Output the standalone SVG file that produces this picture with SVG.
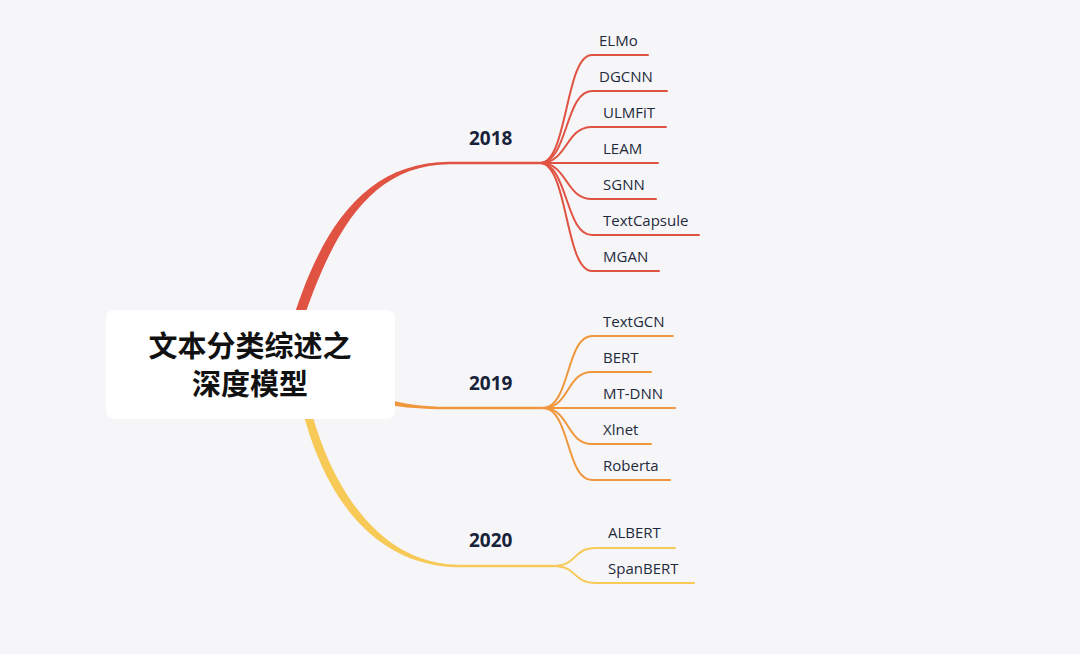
<svg xmlns="http://www.w3.org/2000/svg" width="1080" height="654" viewBox="0 0 1080 654">
<style>
.bg{fill:#F6F6F8}
.l{fill:none;stroke-width:2;stroke-linecap:round}
.r{stroke:#E05242}
.o{stroke:#F0973E}
.y{stroke:#F7C957}
.leaf{font-family:"Open Sans","Liberation Sans",sans-serif;font-size:15px;fill:#1F2A3C}
.yr{font-family:"Open Sans","Liberation Sans",sans-serif;font-size:19px;font-weight:bold;fill:#18223A}
.root{font-family:"Noto Sans CJK SC","Noto Sans",sans-serif;font-size:29px;font-weight:bold;fill:#111111}
</style>
<rect class="bg" x="0" y="0" width="1080" height="654"/>
<g id="connectors">
  <path fill="#E05242" d="M288 335 C316 240 358 161.8 450 161.8 L540 161.8 L540 164.2 L450 164.2 C364 164.2 328 244 298 335 Z"/>
  <path fill="#F0973E" d="M330 383 C378 396 400 406.8 448 406.8 L543 406.8 L543 409.2 L448 409.2 C398 409.2 372 403 326 391 Z"/>
  <path fill="#F7C957" d="M296 380 C315 486 368 567.2 460 567.2 L553 567.2 L553 564.8 L460 564.8 C375 564.8 323 478 304 380 Z"/>
  <path class="l r" d="M540 163 C568 163 565 55 592 55 L648 55"/>
  <path class="l r" d="M540 163 C568 163 565 91 592 91 L667 91"/>
  <path class="l r" d="M540 163 C568 163 565 127 592 127 L666 127"/>
  <path class="l r" d="M540 163 L658 163"/>
  <path class="l r" d="M540 163 C568 163 565 199 592 199 L656 199"/>
  <path class="l r" d="M540 163 C568 163 565 235 592 235 L699 235"/>
  <path class="l r" d="M540 163 C568 163 565 271 592 271 L659 271"/>
  <path class="l o" d="M543 408 C570 408 566 336 592 336 L673 336"/>
  <path class="l o" d="M543 408 C570 408 566 372 592 372 L651 372"/>
  <path class="l o" d="M543 408 L675 408"/>
  <path class="l o" d="M543 408 C570 408 566 444 592 444 L651 444"/>
  <path class="l o" d="M543 408 C570 408 566 480 592 480 L670 480"/>
  <path class="l y" d="M553 566 C578 566 572 548 596 548 L675 548"/>
  <path class="l y" d="M553 566 C578 566 572 583 596 583 L694 583"/>
</g>
<g id="root">
  <rect x="106" y="310" width="289" height="109" rx="8" fill="#FFFFFF"/>
  <text class="root" x="250" y="357" text-anchor="middle">文本分类综述之</text>
  <text class="root" x="250" y="395" text-anchor="middle">深度模型</text>
</g>
<g id="y2018"><text class="yr" x="469" y="145">2018</text></g>
<g id="y2019"><text class="yr" x="469" y="390">2019</text></g>
<g id="y2020"><text class="yr" x="469" y="547">2020</text></g>
<g id="n-elmo"><text class="leaf" x="599" y="46">ELMo</text></g>
<g id="n-dgcnn"><text class="leaf" x="599" y="82">DGCNN</text></g>
<g id="n-ulmfit"><text class="leaf" x="603" y="118">ULMFiT</text></g>
<g id="n-leam"><text class="leaf" x="603" y="154">LEAM</text></g>
<g id="n-sgnn"><text class="leaf" x="603" y="190">SGNN</text></g>
<g id="n-textcapsule"><text class="leaf" x="603" y="226">TextCapsule</text></g>
<g id="n-mgan"><text class="leaf" x="603" y="262">MGAN</text></g>
<g id="n-textgcn"><text class="leaf" x="603" y="327">TextGCN</text></g>
<g id="n-bert"><text class="leaf" x="603" y="363">BERT</text></g>
<g id="n-mtdnn"><text class="leaf" x="603" y="399">MT-DNN</text></g>
<g id="n-xlnet"><text class="leaf" x="603" y="435">Xlnet</text></g>
<g id="n-roberta"><text class="leaf" x="603" y="471">Roberta</text></g>
<g id="n-albert"><text class="leaf" x="608" y="538">ALBERT</text></g>
<g id="n-spanbert"><text class="leaf" x="608" y="574">SpanBERT</text></g>
</svg>
